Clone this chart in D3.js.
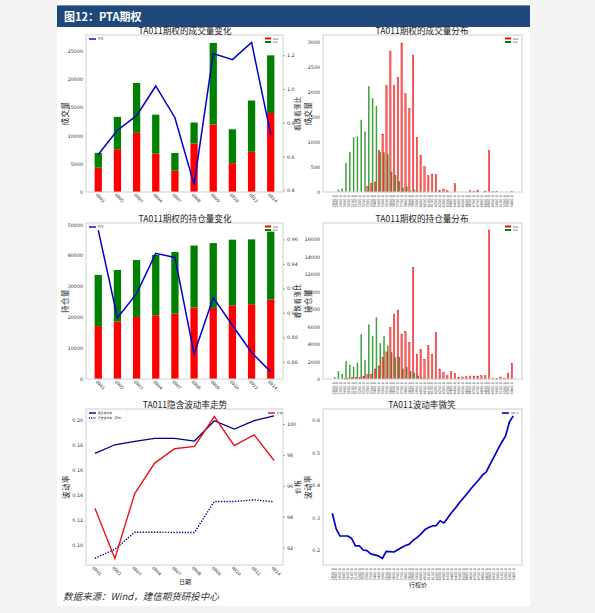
<!DOCTYPE html>
<html><head><meta charset="utf-8">
<script src="https://cdn.jsdelivr.net/npm/d3@7"></script>
<style>body{margin:0;background:#f3f3f3}svg{display:block}</style>
</head><body>
<svg id="c" width="595" height="613"></svg>
<script>
// ---------- data ----------
const dates = ["0901","0902","0903","0904","0907","0908","0909","0910","0911","0914"];
const volCall = [4300, 7574, 10478, 6789, 3770, 8577, 11946, 5106, 7118, 13988];
const volPut  = [2630, 5726, 8822, 6911, 3130, 3723, 14454, 5994, 9082, 10212];
const volPCR  = [0.612, 0.756, 0.842, 1.018, 0.83, 0.434, 1.21, 1.174, 1.276, 0.73];
const oiCall  = [17128, 18618, 20096, 20630, 21128, 23145, 23008, 23864, 24202, 25758];
const oiPut   = [16572, 16682, 18404, 19570, 19972, 20055, 20992, 21236, 20998, 21942];
const oiPCR   = [0.9676, 0.896, 0.9157, 0.9486, 0.9453, 0.8665, 0.9124, 0.8899, 0.8676, 0.8518];
const ivSeries = [0.1735, 0.1804, 0.1831, 0.1855, 0.1855, 0.1834, 0.1997, 0.1930, 0.1997, 0.2035];
const hvSeries = [0.0893, 0.0965, 0.1102, 0.1102, 0.1100, 0.1100, 0.1349, 0.1349, 0.1362, 0.1346];
const priceSeries = [94.55, 91.3, 95.5, 97.47, 98.4, 98.55, 100.48, 98.6, 99.3, 97.64];
const strikes = ["2850.0","2900.0","2950.0","3000.0","3050.0","3100.0","3150.0","3200.0","3250.0","3300.0",
  "3350.0","3400.0","3450.0","3500.0","3550.0","3600.0","3650.0","3700.0","3750.0","3800.0",
  "3850.0","3900.0","3950.0","4000.0","4050.0","4100.0","4150.0","4200.0","4250.0","4300.0",
  "4350.0","4400.0","4450.0","4500.0","4550.0","4600.0","4650.0","4700.0","4750.0","4800.0",
  "4850.0","4900.0","4950.0","5000.0","5100.0","5200.0","5300.0","5400.0"];
const distVolCall = [0,0,0,0,0,0,0,0,0,110,175,200,830,1155,2125,2810,2120,2285,2970,1960,
  1670,2730,1090,730,505,325,360,345,30,60,25,0,165,0,0,0,25,20,30,0,20,830,5,5,0,0,0,10];
const distVolPut = [0,45,70,580,800,1090,1110,1440,1210,2110,1870,1715,795,790,755,405,340,215,85,110,
  25,45,5,0,0,0,0,0,0,0,0,0,0,0,0,0,0,0,0,0,0,0,0,0,0,0,0,0];
const distOiCall = [0,0,0,40,60,150,170,190,270,500,540,1150,1490,2490,3100,5900,7430,7890,5130,5440,
  4180,12800,2830,3370,2260,3830,2830,5330,1150,730,380,840,610,190,230,270,340,340,340,380,380,17050,110,80,230,110,690,1800];
const distOiPut = [230,880,575,2070,1650,1380,1880,5130,2150,6240,4900,7050,4100,4900,3830,3070,2490,2530,1190,1380,
  920,690,380,150,100,80,60,50,40,30,30,20,20,10,10,10,10,10,10,10,10,10,0,0,0,0,0,0];
const smile = [0.314,0.266,0.244,0.244,0.244,0.237,0.214,0.214,0.201,0.199,0.189,0.186,0.183,0.175,0.197,0.196,
  0.195,0.202,0.209,0.215,0.219,0.231,0.239,0.250,0.263,0.270,0.275,0.276,0.291,0.284,0.300,0.316,0.330,0.346,
  0.360,0.374,0.389,0.403,0.416,0.431,0.441,0.465,0.487,0.510,0.532,0.551,0.594,0.613];

// ---------- page ----------
const svg = d3.select("#c");
const CJK = "'Noto Sans CJK SC','Noto Sans',sans-serif";
const TICK = "'DejaVu Sans',sans-serif";
svg.append("rect").attr("width",595).attr("height",613).attr("fill","#f3f3f3");
svg.append("rect").attr("x",57).attr("y",0).attr("width",473).attr("height",606).attr("fill","#fff");
svg.append("rect").attr("x",57).attr("y",5).attr("width",473).attr("height",22).attr("fill","#1f497d");
svg.append("rect").attr("x",57).attr("y",5).attr("width",473).attr("height",1).attr("fill","#6f8fb8");
svg.append("text").attr("x",64).attr("y",21).attr("fill","#fff").attr("font-family",CJK)
  .attr("font-weight","bold").attr("font-size",11).text("图12：PTA期权");
svg.append("text").attr("x",63).attr("y",600).attr("fill","#333").attr("font-family",CJK)
  .attr("font-style","italic").attr("font-size",9.5)
  .text("数据来源：Wind，建信期货研投中心");

// ---------- helpers ----------
function frame(x0,y0,x1,y1){
  svg.append("rect").attr("x",x0).attr("y",y0).attr("width",x1-x0).attr("height",y1-y0)
    .attr("fill","none").attr("stroke","#cfcfcf").attr("stroke-width",1);
}
function title(cx,y,t){
  svg.append("text").attr("x",cx).attr("y",y).attr("text-anchor","middle").attr("font-family",CJK)
    .attr("font-size",8.6).attr("fill","#222").text(t);
}
function styleAxis(g){
  g.select(".domain").remove();
  g.selectAll("text").attr("font-family",TICK).attr("font-size",4.8).attr("fill","#333");
}
function leftAxis(y,x0,vals,fmt){
  const g = svg.append("g").attr("transform",`translate(${x0},0)`)
    .call(d3.axisLeft(y).tickValues(vals).tickSize(0).tickPadding(3).tickFormat(fmt));
  styleAxis(g);
}
function rightAxis(y,x1,vals,fmt){
  const g = svg.append("g").attr("transform",`translate(${x1},0)`)
    .call(d3.axisRight(y).tickValues(vals).tickSize(2).tickPadding(2).tickFormat(fmt));
  g.selectAll("line").attr("stroke","#555").attr("stroke-width",0.5);
  styleAxis(g);
}
function vlabel(x,y,t,size){
  svg.append("text").attr("transform",`translate(${x},${y}) rotate(-90)`).attr("text-anchor","middle")
    .attr("font-family",CJK).attr("font-size",size||7.5).attr("fill","#222").attr("letter-spacing",0.5).text(t);
}
function dateTicks(x,yb){
  const g = svg.append("g");
  dates.forEach((d,i)=>{
    g.append("text").attr("transform",`translate(${x(i)+1},${yb+7}) rotate(45)`).attr("text-anchor","middle")
      .attr("font-family",TICK).attr("font-size",4.3).attr("fill","#333").text(d);
  });
}
function strikeTicks(x,yb){
  const g = svg.append("g");
  strikes.forEach((s,i)=>{
    g.append("text").attr("transform",`translate(${x(i)+1.3},${yb+3}) rotate(-90)`).attr("text-anchor","end")
      .attr("font-family",TICK).attr("font-size",3.6).attr("fill","#444").text(s);
  });
}
function legendLine(x,y,color,label,dash,w){
  svg.append("line").attr("x1",x).attr("x2",x+7).attr("y1",y).attr("y2",y).attr("stroke",color)
    .attr("stroke-width",w||1.4).attr("stroke-dasharray",dash||null);
  svg.append("text").attr("x",x+9).attr("y",y+1).attr("font-family",CJK).attr("font-size",2.8).attr("fill","#333").text(label);
}
function legendBox(x,y,color,label){
  svg.append("rect").attr("x",x).attr("y",y-1).attr("width",6).attr("height",2).attr("fill",color);
  svg.append("text").attr("x",x+8).attr("y",y+1).attr("font-family",TICK).attr("font-size",2.8).attr("fill","#333").text(label);
}

// ---------- panel 1 & 3: stacked bars + PCR line ----------
function stackPanel(y0,y1,callV,putV,pcrV,yMax,rDom,lTicks,rTicks,rFmt,ttl,lLab,rLab){
  const x = d3.scaleLinear().domain([-0.64,9.64]).range([86,283]);
  const yL = d3.scaleLinear().domain([0,yMax]).range([y1,y0]);
  const yR = d3.scaleLinear().domain(rDom).range([y1,y0]);
  const bw = x(0.19)-x(-0.19);
  svg.append("g").selectAll("rect").data(callV).join("rect")
    .attr("x",(d,i)=>x(i)-bw/2).attr("width",bw).attr("y",d=>yL(d)).attr("height",d=>y1-yL(d)).attr("fill","#ff0000");
  svg.append("g").selectAll("rect").data(putV).join("rect")
    .attr("x",(d,i)=>x(i)-bw/2).attr("width",bw).attr("y",(d,i)=>yL(d+callV[i])).attr("height",(d,i)=>yL(callV[i])-yL(d+callV[i])).attr("fill","#008000");
  svg.append("path").datum(pcrV).attr("fill","none").attr("stroke","#0000cd").attr("stroke-width",1.5)
    .attr("d",d3.line().x((d,i)=>x(i)).y(d=>yR(d)));
  frame(86,y0,283,y1);
  leftAxis(yL,86,lTicks,d3.format("d"));
  rightAxis(yR,283,rTicks,rFmt);
  dateTicks(x,y1);
  title(185,y0-1.5,ttl);
  vlabel(68,(y0+y1)/2,lLab);
  vlabel(300,(y0+y1)/2,rLab,6.5);
  legendLine(89,y0+4,"#0000cd","PCR");
  legendBox(265,y0+3.5,"#ff0000","Call");
  legendBox(265,y0+7,"#008000","Put");
}
stackPanel(35,192,volCall,volPut,volPCR,27800,[0.39,1.32],[0,5000,10000,15000,20000,25000],[0.4,0.6,0.8,1.0,1.2],d3.format(".1f"),
  "TA011期权的成交量变化","成交量","看跌看涨比");
stackPanel(223,379,oiCall,oiPut,oiPCR,50500,[0.846,0.9734],[0,10000,20000,30000,40000,50000],[0.86,0.88,0.90,0.92,0.94,0.96],d3.format(".2f"),
  "TA011期权的持仓量变化","持仓量","看跌看涨比");

// ---------- panel 2 & 4: distribution ----------
function distPanel(y0,y1,callV,putV,yMax,ticks,ttl,lLab){
  const x = d3.scaleLinear().domain([-2.71,49.66]).range([323,522]);
  const yL = d3.scaleLinear().domain([0,yMax]).range([y1,y0]);
  const bw = x(0.4)-x(0);
  svg.append("g").selectAll("rect").data(putV).join("rect")
    .attr("x",(d,i)=>x(i+0.35)-bw/2).attr("width",bw).attr("y",d=>yL(d)).attr("height",d=>y1-yL(d))
    .attr("fill","#008000").attr("fill-opacity",0.75);
  svg.append("g").selectAll("rect").data(callV).join("rect")
    .attr("x",(d,i)=>x(i)-bw/2).attr("width",bw).attr("y",d=>yL(d)).attr("height",d=>y1-yL(d))
    .attr("fill","#ff0000").attr("fill-opacity",0.6).attr("stroke","#e00000").attr("stroke-width",0.35);
  frame(323,y0,522,y1);
  leftAxis(yL,323,ticks,d3.format("d"));
  strikeTicks(x,y1);
  title(422,y0-1.5,ttl);
  vlabel(311,(y0+y1)/2,lLab);
  legendBox(505,y0+3.5,"#ff0000","Call");
  legendBox(505,y0+7,"#008000","Put");
}
distPanel(35,192,distVolCall,distVolPut,3130,[0,500,1000,1500,2000,2500,3000],"TA011期权的成交量分布","成交量");
distPanel(223,379,distOiCall,distOiPut,17850,[0,2000,4000,6000,8000,10000,12000,14000,16000],"TA011期权的持仓量分布","持仓量");

// ---------- panel 5: implied vol trend ----------
(function(){
  const y0=409,y1=565;
  const x = d3.scaleLinear().domain([-0.45,9.45]).range([86,283]);
  const yL = d3.scaleLinear().domain([0.0839,0.2091]).range([y1,y0]);
  const yR = d3.scaleLinear().domain([90.88,100.97]).range([y1,y0]);
  svg.append("path").datum(ivSeries).attr("fill","none").attr("stroke","#000080").attr("stroke-width",1.3)
    .attr("d",d3.line().x((d,i)=>x(i)).y(d=>yL(d)));
  svg.append("path").datum(hvSeries).attr("fill","none").attr("stroke","#000080").attr("stroke-width",1.4)
    .attr("stroke-dasharray","1.3,1.5").attr("d",d3.line().x((d,i)=>x(i)).y(d=>yL(d)));
  svg.append("path").datum(priceSeries).attr("fill","none").attr("stroke","#e8141c").attr("stroke-width",1.4)
    .attr("d",d3.line().x((d,i)=>x(i)).y(d=>yR(d)));
  frame(86,y0,283,y1);
  leftAxis(yL,86,[0.10,0.12,0.14,0.16,0.18,0.20],d3.format(".2f"));
  rightAxis(yR,283,[92,94,96,98,100],d3.format("d"));
  dateTicks(x,y1);
  title(185,y0-1.5,"TA011隐含波动率走势");
  vlabel(69,(y0+y1)/2,"波动率");
  vlabel(300,(y0+y1)/2,"价格",6.5);
  svg.append("text").attr("x",185).attr("y",584).attr("text-anchor","middle").attr("font-family",CJK)
    .attr("font-size",6).attr("fill","#222").text("日期");
  svg.append("rect").attr("x",87).attr("y",410).attr("width",40).attr("height",11).attr("fill","#fff").attr("stroke","#e6e6e6").attr("stroke-width",0.4);
  legendLine(89,413,"#000080","隐含波动率");
  legendLine(89,418,"#000080","历史波动率（20日）","1,1.2");
  legendLine(268,413,"#e8141c","价格");
})();

// ---------- panel 6: vol smile ----------
(function(){
  const y0=409,y1=565;
  const x = d3.scaleLinear().domain([-2.42,49.27]).range([323,522]);
  const yL = d3.scaleLinear().domain([0.155,0.634]).range([y1,y0]);
  svg.append("path").datum(smile).attr("fill","none").attr("stroke","#0000cc").attr("stroke-width",1.7)
    .attr("stroke-linejoin","round").attr("d",d3.line().x((d,i)=>x(i)).y(d=>yL(d)));
  frame(323,y0,522,y1);
  leftAxis(yL,323,[0.2,0.3,0.4,0.5,0.6],d3.format(".1f"));
  strikeTicks(x,y1);
  title(422,y0-1.5,"TA011波动率微笑");
  vlabel(311,(y0+y1)/2,"波动率");
  svg.append("text").attr("x",418).attr("y",587).attr("text-anchor","middle").attr("font-family",CJK)
    .attr("font-size",6).attr("fill","#222").text("行权价");
  legendLine(502,413,"#0000cc","vol_iv",null,1.6);
})();
</script>
</body></html>
